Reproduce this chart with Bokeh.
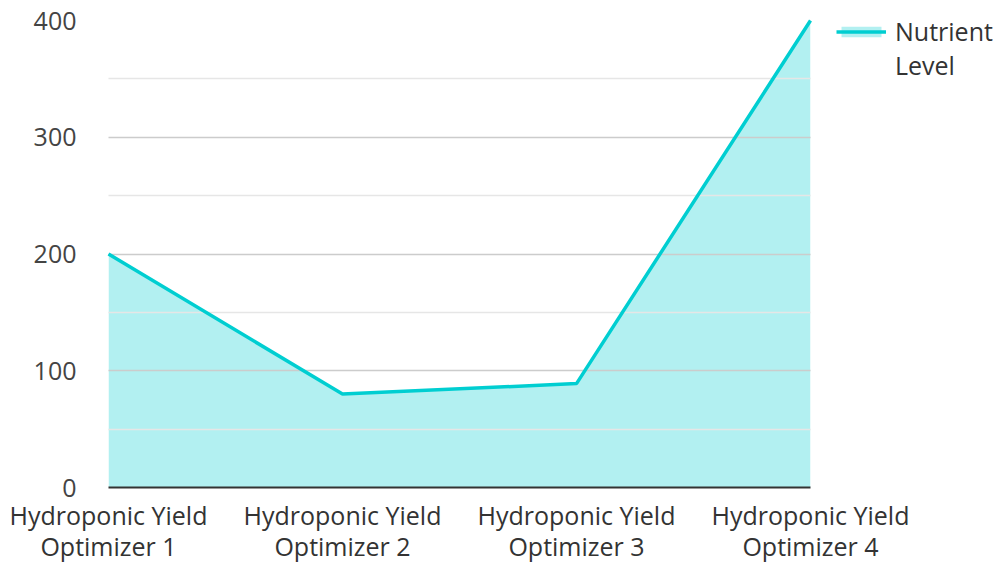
from bokeh.plotting import figure
from bokeh.models import Range1d, FixedTicker, Legend, LegendItem
from bokeh.embed import file_html
from bokeh.resources import INLINE

categories = ["Hydroponic Yield\nOptimizer 1", "Hydroponic Yield\nOptimizer 2",
              "Hydroponic Yield\nOptimizer 3", "Hydroponic Yield\nOptimizer 4"]
nutrient_level = [200, 80, 89, 400]
y_ticks = [0, 100, 200, 300, 400]
y_minor = [50, 150, 250, 350]
series_name_lines = ["Nutrient", "Level"]

xs = list(range(len(categories)))

p = figure(frame_width=702, frame_height=467, output_backend="svg", toolbar_location=None,
           x_range=Range1d(0, len(categories) - 1), y_range=Range1d(0, 400),
           min_border_left=108, min_border_top=20, min_border_right=0, min_border_bottom=74)
p.outline_line_color = None
p.background_fill_color = "white"
p.border_fill_color = "white"

area = p.varea(x=xs, y1=[0] * len(xs), y2=nutrient_level, fill_color="#00CED1", fill_alpha=0.3)
line = p.line(x=xs, y=nutrient_level, line_color="#00CED1", line_width=3.5, level="overlay")
# invisible placeholder so the second legend line carries no glyph
blank = p.line(x=[], y=[], line_alpha=0)

FONT = "Open Sans"
p.xaxis.ticker = FixedTicker(ticks=xs)
p.xaxis.major_label_overrides = {i: c for i, c in enumerate(categories)}
p.xaxis.major_label_text_font = FONT
p.xaxis.major_label_text_font_size = "25px"
p.xaxis.major_label_text_color = "#333333"
p.xaxis.major_label_text_line_height = 0.93
p.xaxis.major_label_standoff = 4
p.xaxis.axis_line_color = "#333333"
p.xaxis.axis_line_width = 2
p.xaxis.major_tick_line_color = None
p.xaxis.minor_tick_line_color = None

p.yaxis.ticker = FixedTicker(ticks=y_ticks, minor_ticks=y_minor)
p.yaxis.major_label_text_font = FONT
p.yaxis.major_label_text_font_size = "25px"
p.yaxis.major_label_text_color = "#444444"
p.yaxis.major_label_standoff = 26
p.yaxis.axis_line_color = None
p.yaxis.major_tick_line_color = None
p.yaxis.minor_tick_line_color = None

p.xgrid.grid_line_color = None
p.ygrid.grid_line_color = "#cccccc"
p.ygrid.grid_line_width = 1.5
p.ygrid.minor_grid_line_color = "#e6e6e6"
p.ygrid.minor_grid_line_width = 1.5
p.ygrid.level = "guide"

legend = Legend(items=[LegendItem(label=series_name_lines[0], renderers=[area, line]),
                       LegendItem(label=series_name_lines[1], renderers=[blank])],
                location=(26, 405), label_text_font=FONT, label_text_font_size="25px",
                label_text_color="#333333", border_line_color=None, background_fill_alpha=0,
                glyph_width=50, glyph_height=13, padding=0, margin=0, spacing=-3,
                label_standoff=9, label_height=28)
p.add_layout(legend, "right")

open("out.html", "w").write(file_html(p, INLINE))
